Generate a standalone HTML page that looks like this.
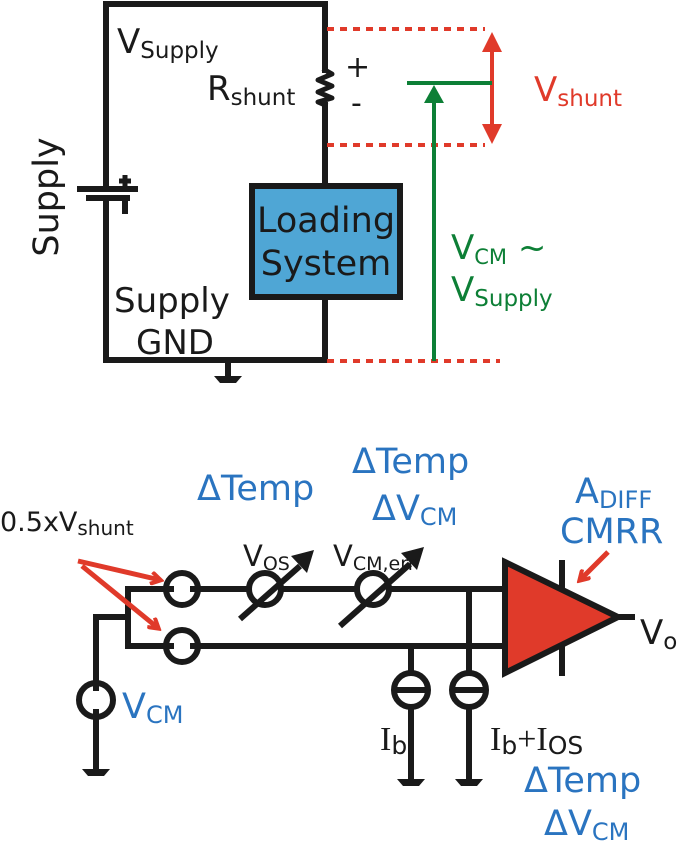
<!DOCTYPE html>
<html><head><meta charset="utf-8"><style>
html,body{margin:0;padding:0;background:#fff;}
svg{display:block;font-family:"DejaVu Sans","Liberation Sans",sans-serif;}
</style></head><body>
<svg width="685" height="845" viewBox="0 0 685 845" xmlns="http://www.w3.org/2000/svg">
<defs>
<marker id="ra" markerWidth="14" markerHeight="14" refX="10" refY="7" orient="auto" markerUnits="userSpaceOnUse"><path d="M1,1 L11,7 L1,13" fill="none" stroke="#e03a2a" stroke-width="4"/></marker>
</defs>
<g stroke="#1a1a1a" stroke-width="6" fill="none" stroke-linecap="square">
<polyline points="106,189 106,4 325,4 325,70"/>
<polyline points="325,105 325,186"/>
<polyline points="325,297 325,360 106,360 106,198"/>
<polyline points="325,70 332,74 318,80 332,86 318,92 332,98 318,102 325,105" stroke-width="5" stroke-linejoin="round"/>
<line x1="80" y1="189" x2="135" y2="189"/>
<line x1="89" y1="198" x2="127" y2="198"/>
<line x1="125" y1="198" x2="125" y2="211"/>
<line x1="228" y1="362" x2="228" y2="378"/>
</g>
<path d="M119,181 h12 M125,175 v12" stroke="#1a1a1a" stroke-width="5"/>
<path d="M214,376 h28 l-6,7 h-16 z" fill="#1a1a1a"/>
<rect x="252" y="186" width="148" height="111" fill="#4fa6d5" stroke="#1a1a1a" stroke-width="6"/>
<g stroke="#e03a2a" stroke-width="4" stroke-dasharray="7,6">
<line x1="327" y1="29" x2="485" y2="29"/>
<line x1="327" y1="145" x2="485" y2="145"/>
<line x1="327" y1="361" x2="500" y2="361"/>
</g>
<line x1="492" y1="45" x2="492" y2="130" stroke="#e03a2a" stroke-width="4"/>
<path d="M482,52 L492,32 L502,52 z M482,124 L492,144 L502,124 z" fill="#e03a2a"/>
<line x1="407" y1="83" x2="492" y2="83" stroke="#0d7f36" stroke-width="4"/>
<line x1="434" y1="98" x2="434" y2="361" stroke="#0d7f36" stroke-width="4"/>
<path d="M424,103 L434,85 L444,103 z" fill="#0d7f36"/>
<g fill="#1a1a1a" font-size="34">
<text x="117" y="53">V<tspan font-size="23" dy="5">Supply</tspan></text>
<text x="207" y="100">R<tspan font-size="23" dy="5">shunt</tspan></text>
<text x="345" y="77" font-size="30">+</text>
<text x="351" y="113" font-size="30">-</text>
<text x="58" y="197" transform="rotate(-90 58 197)" text-anchor="middle" font-size="35">Supply</text>
<text x="326" y="232" text-anchor="middle" font-size="35">Loading</text>
<text x="326" y="275" text-anchor="middle" font-size="35">System</text>
<text x="114" y="312">Supply</text>
<text x="136" y="354">GND</text>
</g>
<text x="534" y="101" fill="#e03a2a" font-size="34">V<tspan font-size="23" dy="5">shunt</tspan></text>
<text x="451" y="259" fill="#0d7f36" font-size="34">V<tspan font-size="21" dy="5">CM</tspan><tspan dy="-5">  ~</tspan></text>
<text x="451" y="301" fill="#0d7f36" font-size="34">V<tspan font-size="23" dy="5">Supply</tspan></text>

<g stroke="#1a1a1a" stroke-width="6" fill="none">
<polyline points="165,589 128,589 128,646 165,646"/>
<line x1="199" y1="589" x2="248" y2="589"/>
<line x1="282" y1="589" x2="356" y2="589"/>
<line x1="390" y1="589" x2="505" y2="589"/>
<line x1="199" y1="646" x2="505" y2="646"/>
<line x1="469" y1="589" x2="469" y2="673"/>
<line x1="411" y1="646" x2="411" y2="673"/>
<polyline points="96,683 96,617 128,617"/>
<line x1="96" y1="717" x2="96" y2="770"/>
<line x1="411" y1="707" x2="411" y2="780"/>
<line x1="469" y1="707" x2="469" y2="780"/>
<circle cx="182" cy="589" r="16"/>
<circle cx="182" cy="646" r="16"/>
<circle cx="265" cy="589" r="16"/>
<circle cx="373" cy="589" r="16"/>
<circle cx="96" cy="700" r="17"/>
<circle cx="411" cy="690" r="17"/>
<circle cx="469" cy="690" r="17"/>
<line x1="394" y1="690" x2="428" y2="690"/>
<line x1="452" y1="690" x2="486" y2="690"/>
<line x1="240" y1="619" x2="300" y2="566"/>
<line x1="340" y1="626" x2="410" y2="564"/>
<line x1="562" y1="560" x2="562" y2="676"/>
<line x1="618" y1="617" x2="635" y2="617"/>
</g>
<path d="M166,589 h8 M190,589 h6 M166,646 h8 M190,646 h6" stroke="#1a1a1a" stroke-width="6"/>
<path d="M96,683 v8 M96,709 v8" stroke="#1a1a1a" stroke-width="6"/>
<path d="M291,556 L314,550 L307,573 z M401,553 L424,547 L417,570 z" fill="#1a1a1a"/>
<path d="M82,769 h28 l-6,7 h-16 z M397,779 h28 l-6,7 h-16 z M455,779 h28 l-6,7 h-16 z" fill="#1a1a1a"/>
<path d="M505,562 L618,617 L505,673 z" fill="#e03a2a" stroke="#1a1a1a" stroke-width="6" stroke-linejoin="miter"/>
<g stroke="#e03a2a" stroke-width="5" fill="none" marker-end="url(#ra)">
<line x1="608" y1="552" x2="580" y2="580"/>
<line x1="78" y1="561" x2="160" y2="580"/>
<line x1="82" y1="566" x2="158" y2="628"/>
</g>
<g fill="#1a1a1a">
<text x="0" y="531" font-size="27">0.5xV<tspan font-size="20" dy="4">shunt</tspan></text>
<text x="243" y="566" font-size="29">V<tspan font-size="19" dy="4">OS</tspan></text>
<text x="333" y="566" font-size="29">V<tspan font-size="19" dy="4">CM,err</tspan></text>
<text x="640" y="644" font-size="34">V<tspan font-size="23" dy="5">o</tspan></text>
<text x="380" y="750" font-size="34" font-family="Liberation Serif,serif">I<tspan font-size="25" dy="4" font-family="DejaVu Sans,sans-serif">b</tspan></text>
<text x="490" y="750" font-size="34" font-family="Liberation Serif,serif">I<tspan font-size="25" dy="4" font-family="DejaVu Sans,sans-serif">b</tspan><tspan dy="-4">+I</tspan><tspan font-size="25" dy="4" font-family="DejaVu Sans,sans-serif">OS</tspan></text>
</g>
<g fill="#2a74c0" font-size="35">
<text x="197" y="500">ΔTemp</text>
<text x="352" y="473">ΔTemp</text>
<text x="372" y="520">ΔV<tspan font-size="24" dy="5">CM</tspan></text>
<text x="575" y="503">A<tspan font-size="24" dy="5">DIFF</tspan></text>
<text x="560" y="543">CMRR</text>
<text x="122" y="718">V<tspan font-size="24" dy="5">CM</tspan></text>
<text x="524" y="792">ΔTemp</text>
<text x="544" y="835">ΔV<tspan font-size="24" dy="5">CM</tspan></text>
</g>
</svg>
</body></html>
